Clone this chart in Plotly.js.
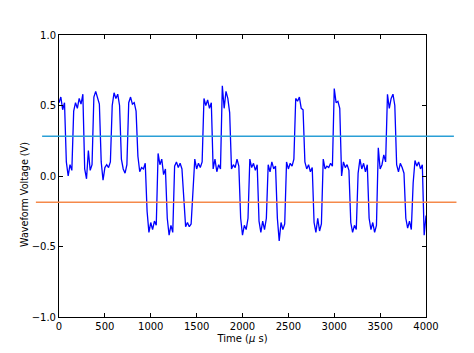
<!DOCTYPE html>
<html>
<head>
<meta charset="utf-8">
<script src="https://cdn.plot.ly/plotly-3.0.1.min.js"></script>
<style>html,body{margin:0;padding:0;background:#fff;}#chart{width:474px;height:353px;}</style>
</head>
<body>
<div id="chart"></div>
<script>
const sampleStep = 20;
const voltage = [
0.52,0.56,0.47,0.52,0.10,0.00,0.08,0.04,0.46,0.52,
0.48,0.55,0.51,0.58,0.05,-0.02,0.18,0.04,0.08,0.56,
0.60,0.56,0.51,0.10,-0.03,0.06,0.08,0.06,0.10,0.50,
0.59,0.55,0.58,0.50,0.12,0.05,0.02,0.08,0.52,0.56,
0.51,0.52,0.46,0.14,0.03,0.06,0.05,0.09,-0.25,-0.40,
-0.33,-0.38,-0.32,-0.35,0.16,0.08,0.12,0.01,0.05,-0.30,
-0.42,-0.35,-0.40,0.07,0.10,0.06,0.09,0.05,-0.20,-0.36,
-0.33,-0.36,-0.34,-0.10,0.12,0.05,0.09,0.06,0.10,0.55,
0.50,0.54,0.48,0.52,0.05,0.12,0.03,0.08,0.05,0.64,
0.48,0.60,0.55,0.45,0.05,0.08,0.06,0.12,0.07,-0.30,
-0.42,-0.35,-0.38,-0.30,0.12,0.06,0.09,0.04,0.08,-0.32,
-0.40,-0.32,-0.38,-0.30,0.08,0.03,0.10,0.05,0.07,-0.30,
-0.46,-0.33,-0.38,-0.34,0.10,0.05,0.09,0.07,0.12,0.55,
0.53,0.56,0.48,0.47,0.10,0.05,0.08,0.03,0.06,-0.33,
-0.40,-0.30,-0.39,-0.34,0.12,0.05,0.07,0.06,0.09,0.07,
0.62,0.52,0.53,0.48,0.00,0.10,0.06,0.08,0.04,-0.33,
-0.40,-0.35,-0.38,0.02,0.12,0.05,0.09,0.03,0.08,-0.30,
-0.38,-0.33,-0.40,-0.35,0.20,0.05,0.08,0.15,0.10,0.58,
0.48,0.55,0.58,0.50,0.08,0.03,0.09,0.06,0.02,-0.30,
-0.37,-0.32,-0.38,-0.05,0.11,0.07,0.10,0.05,0.08,-0.42,
-0.28
];
const time = voltage.map((_, i) => i * sampleStep);
const upperThreshold = 0.282;
const lowerThreshold = -0.186;
const xTicks = [0,500,1000,1500,2000,2500,3000,3500,4000];
const yTicks = [-1.0,-0.5,0.0,0.5,1.0];

const trace = {
  x: time, y: voltage, type: 'scatter', mode: 'lines',
  line: {color: '#0000ff', width: 1.3}, hoverinfo: 'skip'
};
const font = {family: 'DejaVu Sans, sans-serif', size: 10, color: '#000'};
const layout = {
  width: 474, height: 353,
  margin: {l: 59, r: 48, t: 35, b: 36},
  paper_bgcolor: '#fff', plot_bgcolor: '#fff',
  showlegend: false, font: font,
  xaxis: {
    range: [0, 4000], tickvals: xTicks, ticktext: xTicks.map(String),
    ticks: 'inside', ticklen: 4, tickcolor: '#000', showgrid: false, zeroline: false,
    showline: true, linecolor: '#000', linewidth: 1, mirror: 'ticks',
    tickfont: font,
    title: {text: 'Time (<i>μ</i> s)', font: font, standoff: 3}
  },
  yaxis: {
    range: [-1, 1], tickvals: yTicks, ticktext: yTicks.map(v => v.toFixed(1).replace('-', '\u2212')),
    ticks: 'inside', ticklen: 4, tickcolor: '#000', showgrid: false, zeroline: false,
    showline: true, linecolor: '#000', linewidth: 1, mirror: 'ticks',
    tickfont: font
  },
  annotations: [
    {text: 'Waveform Voltage (V)', xref: 'paper', yref: 'paper', x: -0.0926, y: 0.433,
     xanchor: 'center', yanchor: 'middle', textangle: -90, showarrow: false,
     font: {family: 'DejaVu Sans, sans-serif', size: 9.6, color: '#000'}}
  ],
  shapes: [
    {type: 'line', xref: 'paper', yref: 'y', x0: -0.046, x1: 1.076, y0: upperThreshold, y1: upperThreshold,
     line: {color: '#2a9fd6', width: 1.5}},
    {type: 'line', xref: 'paper', yref: 'y', x0: -0.063, x1: 1.083, y0: lowerThreshold, y1: lowerThreshold,
     line: {color: '#f5894a', width: 1.5}}
  ]
};
Plotly.newPlot('chart', [trace], layout, {staticPlot: true, displayModeBar: false});
</script>
</body>
</html>
